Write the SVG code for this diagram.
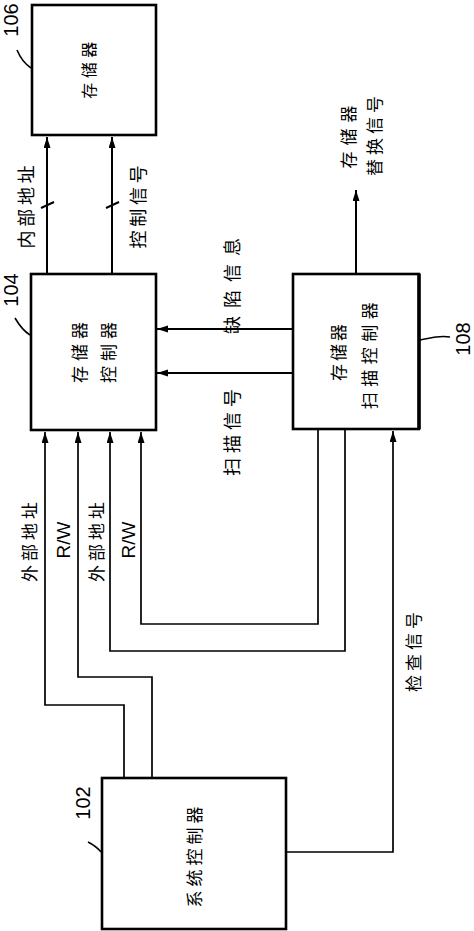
<svg xmlns="http://www.w3.org/2000/svg" width="474" height="931" viewBox="0 0 474 931">
<style>
.box{fill:#fff;stroke:#000;stroke-width:2.6}
.ln{fill:none;stroke:#000;stroke-width:2}
.ln2{fill:none;stroke:#000;stroke-width:1.7}
.ld{fill:none;stroke:#000;stroke-width:1.6}
.cj{font-family:"Noto Sans CJK SC","Noto Sans CJK JP",sans-serif;font-size:17px;text-anchor:middle;dominant-baseline:central;fill:#000}
.lt{font-family:"Liberation Sans",Arial,sans-serif;font-size:19px;text-anchor:middle;dominant-baseline:central;fill:#000}
.num{font-family:"Liberation Sans",Arial,sans-serif;font-size:20px;text-anchor:middle;dominant-baseline:central;fill:#000}
</style>
<defs>
<marker id="ah" markerUnits="userSpaceOnUse" markerWidth="12" markerHeight="8" refX="11" refY="3.5" orient="auto">
<path d="M0,0 L11,3.5 L0,7 z" fill="#000"/>
</marker>
</defs>
<rect width="474" height="931" fill="#fff"/>

<g id="connectors">
<line class="ln" x1="47" y1="274" x2="47" y2="137" marker-end="url(#ah)"/>
<line class="ln" x1="112" y1="274" x2="112" y2="137" marker-end="url(#ah)"/>
<line class="ln" x1="41" y1="208" x2="54" y2="202"/>
<line class="ln" x1="106" y1="208" x2="119" y2="202"/>
<line class="ln" x1="293" y1="329" x2="157" y2="329" marker-end="url(#ah)"/>
<line class="ln" x1="293" y1="373" x2="157" y2="373" marker-end="url(#ah)"/>
<line class="ln" x1="356" y1="274" x2="356" y2="190" marker-end="url(#ah)"/>
<polyline class="ln2" points="124,778 124,705 45,705 45,432" marker-end="url(#ah)"/>
<polyline class="ln2" points="152,778 152,677 78,677 78,432" marker-end="url(#ah)"/>
<polyline class="ln2" points="345,430 345,651 110,651 110,432" marker-end="url(#ah)"/>
<polyline class="ln2" points="318,430 318,624 141,624 141,432" marker-end="url(#ah)"/>
<polyline class="ln2" points="286,852 393,852 393,431" marker-end="url(#ah)"/>
</g>

<g id="n106">
<rect class="box" x="32" y="5" width="124" height="130"/>
<text class="cj" transform="translate(88,68) rotate(-90)" style="font-size:16px;letter-spacing:4.5px">存储器</text>
<text class="num" transform="translate(11,20) rotate(-90)">106</text>
<path class="ld" d="M17,50 Q22,62 31,68"/>
</g>

<g id="n104">
<rect class="box" x="31" y="274" width="125" height="156"/>
<text class="cj" transform="translate(78,350) rotate(-90)" style="letter-spacing:5px">存储器</text>
<text class="cj" transform="translate(107,350) rotate(-90)" style="letter-spacing:5px">控制器</text>
<text class="num" transform="translate(11,290) rotate(-90)">104</text>
<path class="ld" d="M15,318 Q22,330 30,335"/>
</g>

<g id="n108">
<rect class="box" x="293" y="274" width="126" height="155"/>
<line x1="419" y1="274" x2="419" y2="429" stroke="#000" stroke-width="3.5"/>
<text class="cj" transform="translate(337,351) rotate(-90)" style="letter-spacing:3px">存储器</text>
<text class="cj" transform="translate(368,353) rotate(-90)" style="letter-spacing:5.5px">扫描控制器</text>
<text class="num" transform="translate(463,339) rotate(-90)">108</text>
<path class="ld" d="M420,340 Q430,338 436,337 Q444,336 450,337"/>
</g>

<g id="n102">
<rect class="box" x="102" y="778" width="184" height="151"/>
<text class="cj" transform="translate(193,855) rotate(-90)" style="letter-spacing:4px">系统控制器</text>
<text class="num" transform="translate(83,803) rotate(-90)">102</text>
<path class="ld" d="M88,842 Q96,846 101,852"/>
</g>

<g id="labels">
<text class="cj" transform="translate(25,205) rotate(-90)" style="font-size:18px;letter-spacing:3.7px">内部地址</text>
<text class="cj" transform="translate(137,205) rotate(-90)" style="font-size:18px;letter-spacing:3.7px">控制信号</text>
<text class="cj" transform="translate(231,282) rotate(-90)" style="font-size:18px;letter-spacing:8px">缺陷信息</text>
<text class="cj" transform="translate(231,430) rotate(-90)" style="font-size:18px;letter-spacing:5px">扫描信号</text>
<text class="cj" transform="translate(347,134) rotate(-90)" style="letter-spacing:6px">存储器</text>
<text class="cj" transform="translate(373,134) rotate(-90)" style="letter-spacing:4px">替换信号</text>
<text class="cj" transform="translate(28,540) rotate(-90)" style="letter-spacing:4px">外部地址</text>
<text class="lt" transform="translate(63,540) rotate(-90)">R/W</text>
<text class="cj" transform="translate(95,540) rotate(-90)" style="letter-spacing:4px">外部地址</text>
<text class="lt" transform="translate(128,540) rotate(-90)">R/W</text>
<text class="cj" transform="translate(412,650) rotate(-90)" style="letter-spacing:4px">检查信号</text>
</g>
</svg>
